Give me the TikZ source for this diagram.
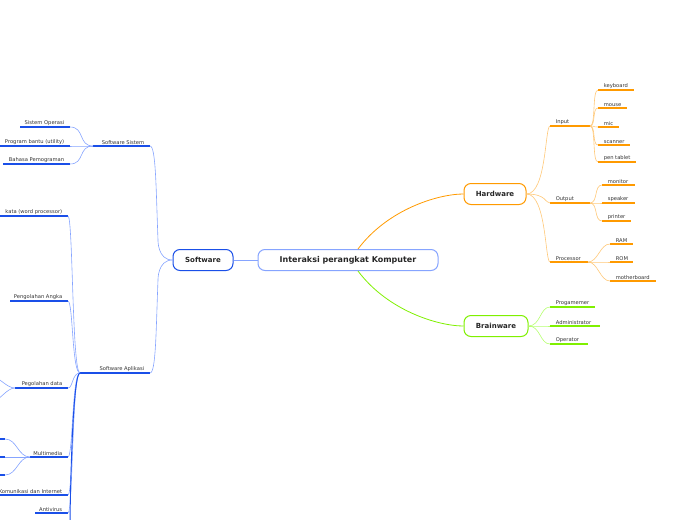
\documentclass[tikz,border=0pt]{standalone}
\usepackage{fontspec}
\setmainfont{DejaVu Sans}
\begin{document}
\begin{tikzpicture}[x=1pt,y=-1pt,
  lbl/.style={font=\fontsize{5.2}{6}\selectfont, text=black!80, inner sep=0.6pt},
  bul/.style={line width=1.1pt,color=#1},
  cur/.style={line width=0.6pt,color=#1},
  hub/.style={draw=#1,line width=1pt,rounded corners=7pt,fill=white,text=black!85,font=\bfseries\fontsize{7}{8}\selectfont,minimum height=21pt,inner xsep=6pt}]
\definecolor{bl}{HTML}{1A4FE8}\definecolor{blc}{HTML}{86A4FF}
\definecolor{or}{HTML}{FF9A00}\definecolor{orc}{HTML}{FFC878}
\definecolor{gr}{HTML}{7FF000}\definecolor{grc}{HTML}{B6FF70}
\useasboundingbox (0,0) rectangle (697,520);
\newcommand\leafL[6]{\coordinate (#1a) at (#2,#4);\coordinate (#1b) at (#3,#4);
  \draw[bul=#6] (#1a)--(#1b); \node[lbl,anchor=south east] (#1t) at (#3-5,#4-1) {#5};}
\newcommand\leafR[6]{\coordinate (#1a) at (#2,#4);\coordinate (#1b) at (#3,#4);
  \draw[bul=#6] (#1a)--(#1b); \node[lbl,anchor=south west] (#1t) at (#2+5,#4-1) {#5};}
% central
\node[hub=blc,minimum width=180pt,font=\bfseries\fontsize{8}{9}\selectfont] (C) at (348,260) {Interaksi perangkat Komputer};
\node[hub=bl,minimum width=60pt] (S) at (203,260) {Software};
\node[hub=or,minimum width=62pt] (H) at (495,194) {Hardware};
\node[hub=gr,minimum width=64pt] (B) at (496,326) {Brainware};
\draw[cur=or,line width=0.8pt] ([xshift=10pt]C.north) .. controls +(30,-40) and +(-25,0) .. (H.west);
\draw[cur=gr,line width=0.8pt] ([xshift=10pt]C.south) .. controls +(30,40) and +(-25,0) .. (B.west);
\draw[cur=blc] (C.west)--(S.east);
% software
\leafL{ss}{93}{150}{146}{Software Sistem}{bl}
\leafL{sa}{80}{150}{373}{Software Aplikasi}{bl}
\draw[cur=blc] (S.west) .. controls +(-15,0) and +(0,0) .. (158,240) .. controls (156,190) and (156,146) .. (ssb);
\draw[cur=blc] (S.west) .. controls +(-15,0) and +(0,0) .. (158,280) .. controls (156,330) and (156,373) .. (sab);
\leafL{so}{20}{70}{127}{Sistem Operasi}{bl}
\leafL{pb}{0}{70}{146}{Program bantu (utility)}{bl}
\leafL{bp}{3}{70}{164}{Bahasa Pemograman}{bl}
\foreach \c in {so,pb,bp}{\draw[cur=blc] (ssa) .. controls +(-15,0) and +(15,0) .. (\c b);}
\leafL{kp}{0}{68}{216}{kata (word processor)}{bl}
\leafL{pa}{10}{68}{301}{Pengolahan Angka}{bl}
\leafL{pd}{15}{68}{388}{Pegolahan data}{bl}
\leafL{mm}{30}{68}{457}{Multimedia}{bl}
\leafL{ki}{0}{68}{495}{Komunikasi dan Internet}{bl}
\leafL{av}{35}{68}{513}{Antivirus}{bl}
\coordinate (off) at (70,530);
\foreach \c in {kp,pa,pd,mm,ki,av}{\draw[cur=blc] (saa) .. controls +(-8,0) and +(5,0) .. (\c b);}
\draw[cur=bl,line width=0.9pt] (saa) .. controls +(-8,0) and +(0,-20) .. (off);
\coordinate (pd1) at (-5,378);\coordinate (pd2) at (-5,400);
\draw[cur=blc] (pda) .. controls +(-8,0) and +(5,0) .. (pd1);
\draw[cur=blc] (pda) .. controls +(-8,0) and +(5,0) .. (pd2);
\coordinate (m1a) at (0,439);\coordinate (m1b) at (5,439);
\coordinate (m2a) at (0,457);\coordinate (m2b) at (5,457);
\coordinate (m3a) at (0,475);\coordinate (m3b) at (5,475);
\foreach \c in {m1,m2,m3}{\draw[bul=bl] (\c a)--(\c b); \draw[cur=blc] (mma) .. controls +(-12,0) and +(12,0) .. (\c b);}
% hardware
\leafR{in}{550}{590}{126}{Input}{or}
\leafR{ou}{550}{590}{203}{Output}{or}
\leafR{pr}{550}{588}{262}{Processor}{or}
\foreach \c in {in,ou,pr}{\draw[cur=orc] (H.east) .. controls +(20,0) and +(-5,0) .. (\c a);}
\leafR{kb}{598}{634}{90}{keyboard}{or}
\leafR{mo}{598}{627}{108}{mouse}{or}
\leafR{mi}{598}{619}{127}{mic}{or}
\leafR{sc}{598}{630}{145}{scanner}{or}
\leafR{pt}{598}{636}{162}{pen tablet}{or}
\foreach \c in {kb,mo,mi,sc,pt}{\draw[cur=orc] (inb) .. controls +(6,0) and +(-6,0) .. (\c a);}
\leafR{mn}{602}{635}{185}{monitor}{or}
\leafR{sp}{602}{635}{203}{speaker}{or}
\leafR{pi}{602}{631}{221}{printer}{or}
\foreach \c in {mn,sp,pi}{\draw[cur=orc] (oub) .. controls +(8,0) and +(-8,0) .. (\c a);}
\leafR{ra}{610}{633}{244}{RAM}{or}
\leafR{ro}{610}{633}{262}{ROM}{or}
\leafR{mb}{610}{656}{281}{motherboard}{or}
\foreach \c in {ra,ro,mb}{\draw[cur=orc] (prb) .. controls +(10,0) and +(-10,0) .. (\c a);}
% brainware
\leafR{pg}{550}{595}{307}{Progamemer}{gr}
\leafR{ad}{550}{600}{326}{Administrator}{gr}
\leafR{op}{550}{588}{344}{Operator}{gr}
\foreach \c in {pg,ad,op}{\draw[cur=grc] (B.east) .. controls +(12,0) and +(-10,0) .. (\c a);}
\end{tikzpicture}
\end{document}
